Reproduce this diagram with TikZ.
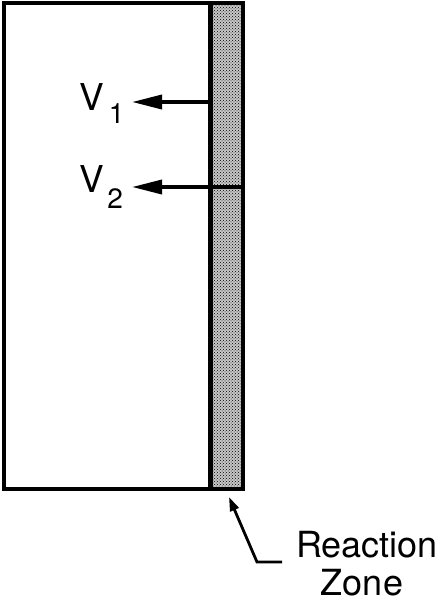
\documentclass[tikz,border=0pt]{standalone}
\usepackage{fontspec}
\setmainfont{TeX Gyre Heros}
\usetikzlibrary{arrows.meta,patterns}
\begin{document}
\begin{tikzpicture}[x=1pt,y=-1pt,
  wall/.style={line width=4.5pt},
  vel/.style={line width=3.5pt,-{Triangle[length=30pt,width=14pt]}},
  lead/.style={line width=2.8pt,{Triangle[length=14pt,width=9pt]}-},
  lab/.style={inner sep=0pt,anchor=base west,font=\fontsize{37}{40}\selectfont},
  rzt/.style={inner sep=0pt,anchor=base,text depth=0pt,font=\fontsize{36}{40}\selectfont}]
\useasboundingbox (0,0) rectangle (442,606);
% reaction zone shading
\fill[black!22] (212,5) rectangle (241,487);
\fill[pattern=crosshatch dots,pattern color=black] (212,5) rectangle (241,487);
% container
\draw[wall] (4,3) rectangle (243,489);
\draw[wall] (210.5,3) -- (210.5,489);
% velocity arrows
\coordinate (s1) at (210,102);
\coordinate (t1) at (132,102);
\coordinate (s2) at (243,187);
\coordinate (t2) at (132,187);
\draw[vel] (s1) -- (t1);
\draw[vel] (s2) -- (t2);
\node[lab] (v1) at (79,110) {V\hspace{5pt}\raisebox{-13pt}{\fontsize{28}{30}\selectfont 1}};
\node[lab] (v2) at (79,192) {V\hspace{3.5pt}\raisebox{-16pt}{\fontsize{28}{30}\selectfont 2}};
% reaction zone label
\coordinate (z) at (229,497);
\coordinate (k) at (257,562);
\coordinate (e) at (282,562);
\draw[lead] (z) -- (k) -- (e);
\node[rzt] (rz1) at (367,557) {Reaction};
\node[rzt] (rz2) at (362,595) {Zone};
\end{tikzpicture}
\end{document}
